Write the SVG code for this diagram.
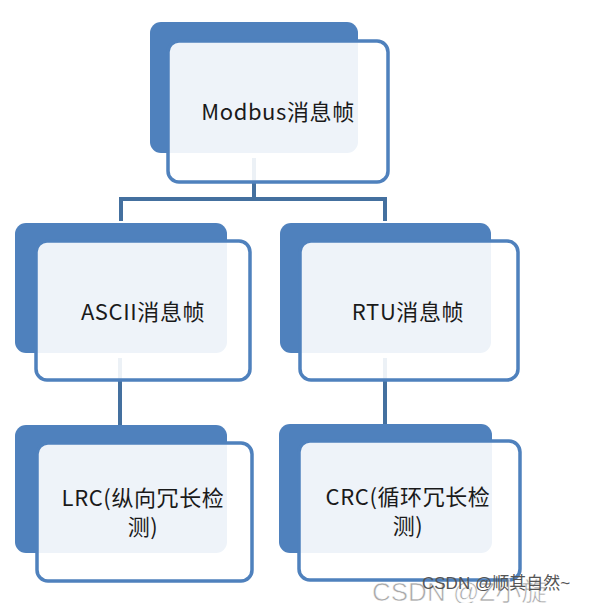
<svg xmlns="http://www.w3.org/2000/svg" width="594" height="603" viewBox="0 0 594 603">
<style>
.back{fill:#4F81BD}
.front{fill:#ffffff;fill-opacity:0.9;stroke:#4F81BD;stroke-width:3.5}
.lbl{font-family:"Noto Sans CJK SC","Noto Sans",sans-serif;font-size:22px;letter-spacing:0.6px;fill:#1a1a1a;text-anchor:middle}
.conn{fill:none;stroke:#44709F;stroke-width:4}
</style>
<rect width="594" height="603" fill="#ffffff"/>
<g id="connectors">
<path class="conn" d="M254 158 V199"/>
<path class="conn" d="M121 221 V199 H385 V221"/>
<path class="conn" d="M120 358 V425"/>
<path class="conn" d="M385 358 V424"/>
</g>
<g id="node-modbus">
<rect class="back" x="150" y="22" width="208" height="131" rx="11"/>
<rect class="front" x="168" y="41" width="220" height="141" rx="11"/>
<text class="lbl" x="278" y="120">Modbus消息帧</text>
</g>
<g id="node-ascii">
<rect class="back" x="15" y="223" width="212" height="130" rx="11"/>
<rect class="front" x="36" y="241" width="214" height="139" rx="11"/>
<text class="lbl" x="143" y="320">ASCII消息帧</text>
</g>
<g id="node-rtu">
<rect class="back" x="280" y="223" width="211" height="130" rx="11"/>
<rect class="front" x="300" y="241" width="218" height="139" rx="11"/>
<text class="lbl" x="408" y="320">RTU消息帧</text>
</g>
<g id="node-lrc">
<rect class="back" x="15" y="425" width="212" height="128" rx="11"/>
<rect class="front" x="37" y="443" width="215" height="138" rx="11"/>
<text class="lbl" x="143" y="506">LRC(纵向冗长检</text>
<text class="lbl" x="143" y="535">测)</text>
</g>
<g id="node-crc">
<rect class="back" x="279" y="424" width="213" height="129" rx="11"/>
<rect class="front" x="299" y="441" width="221" height="139" rx="11"/>
<text class="lbl" x="408" y="505">CRC(循环冗长检</text>
<text class="lbl" x="408" y="534">测)</text>
</g>
<g id="watermark">
<text x="372" y="601" font-family="'Liberation Sans','Noto Sans CJK SC',sans-serif" font-size="26" fill="#9a9a9a" stroke="#ffffff" stroke-width="0.6" fill-opacity="0.85">CSDN @Z小旋</text>
<text x="422" y="589" font-family="'Liberation Sans','Noto Sans CJK SC',sans-serif" font-size="17" fill="#555555">CSDN @顺其自然~</text>
</g>
</svg>
